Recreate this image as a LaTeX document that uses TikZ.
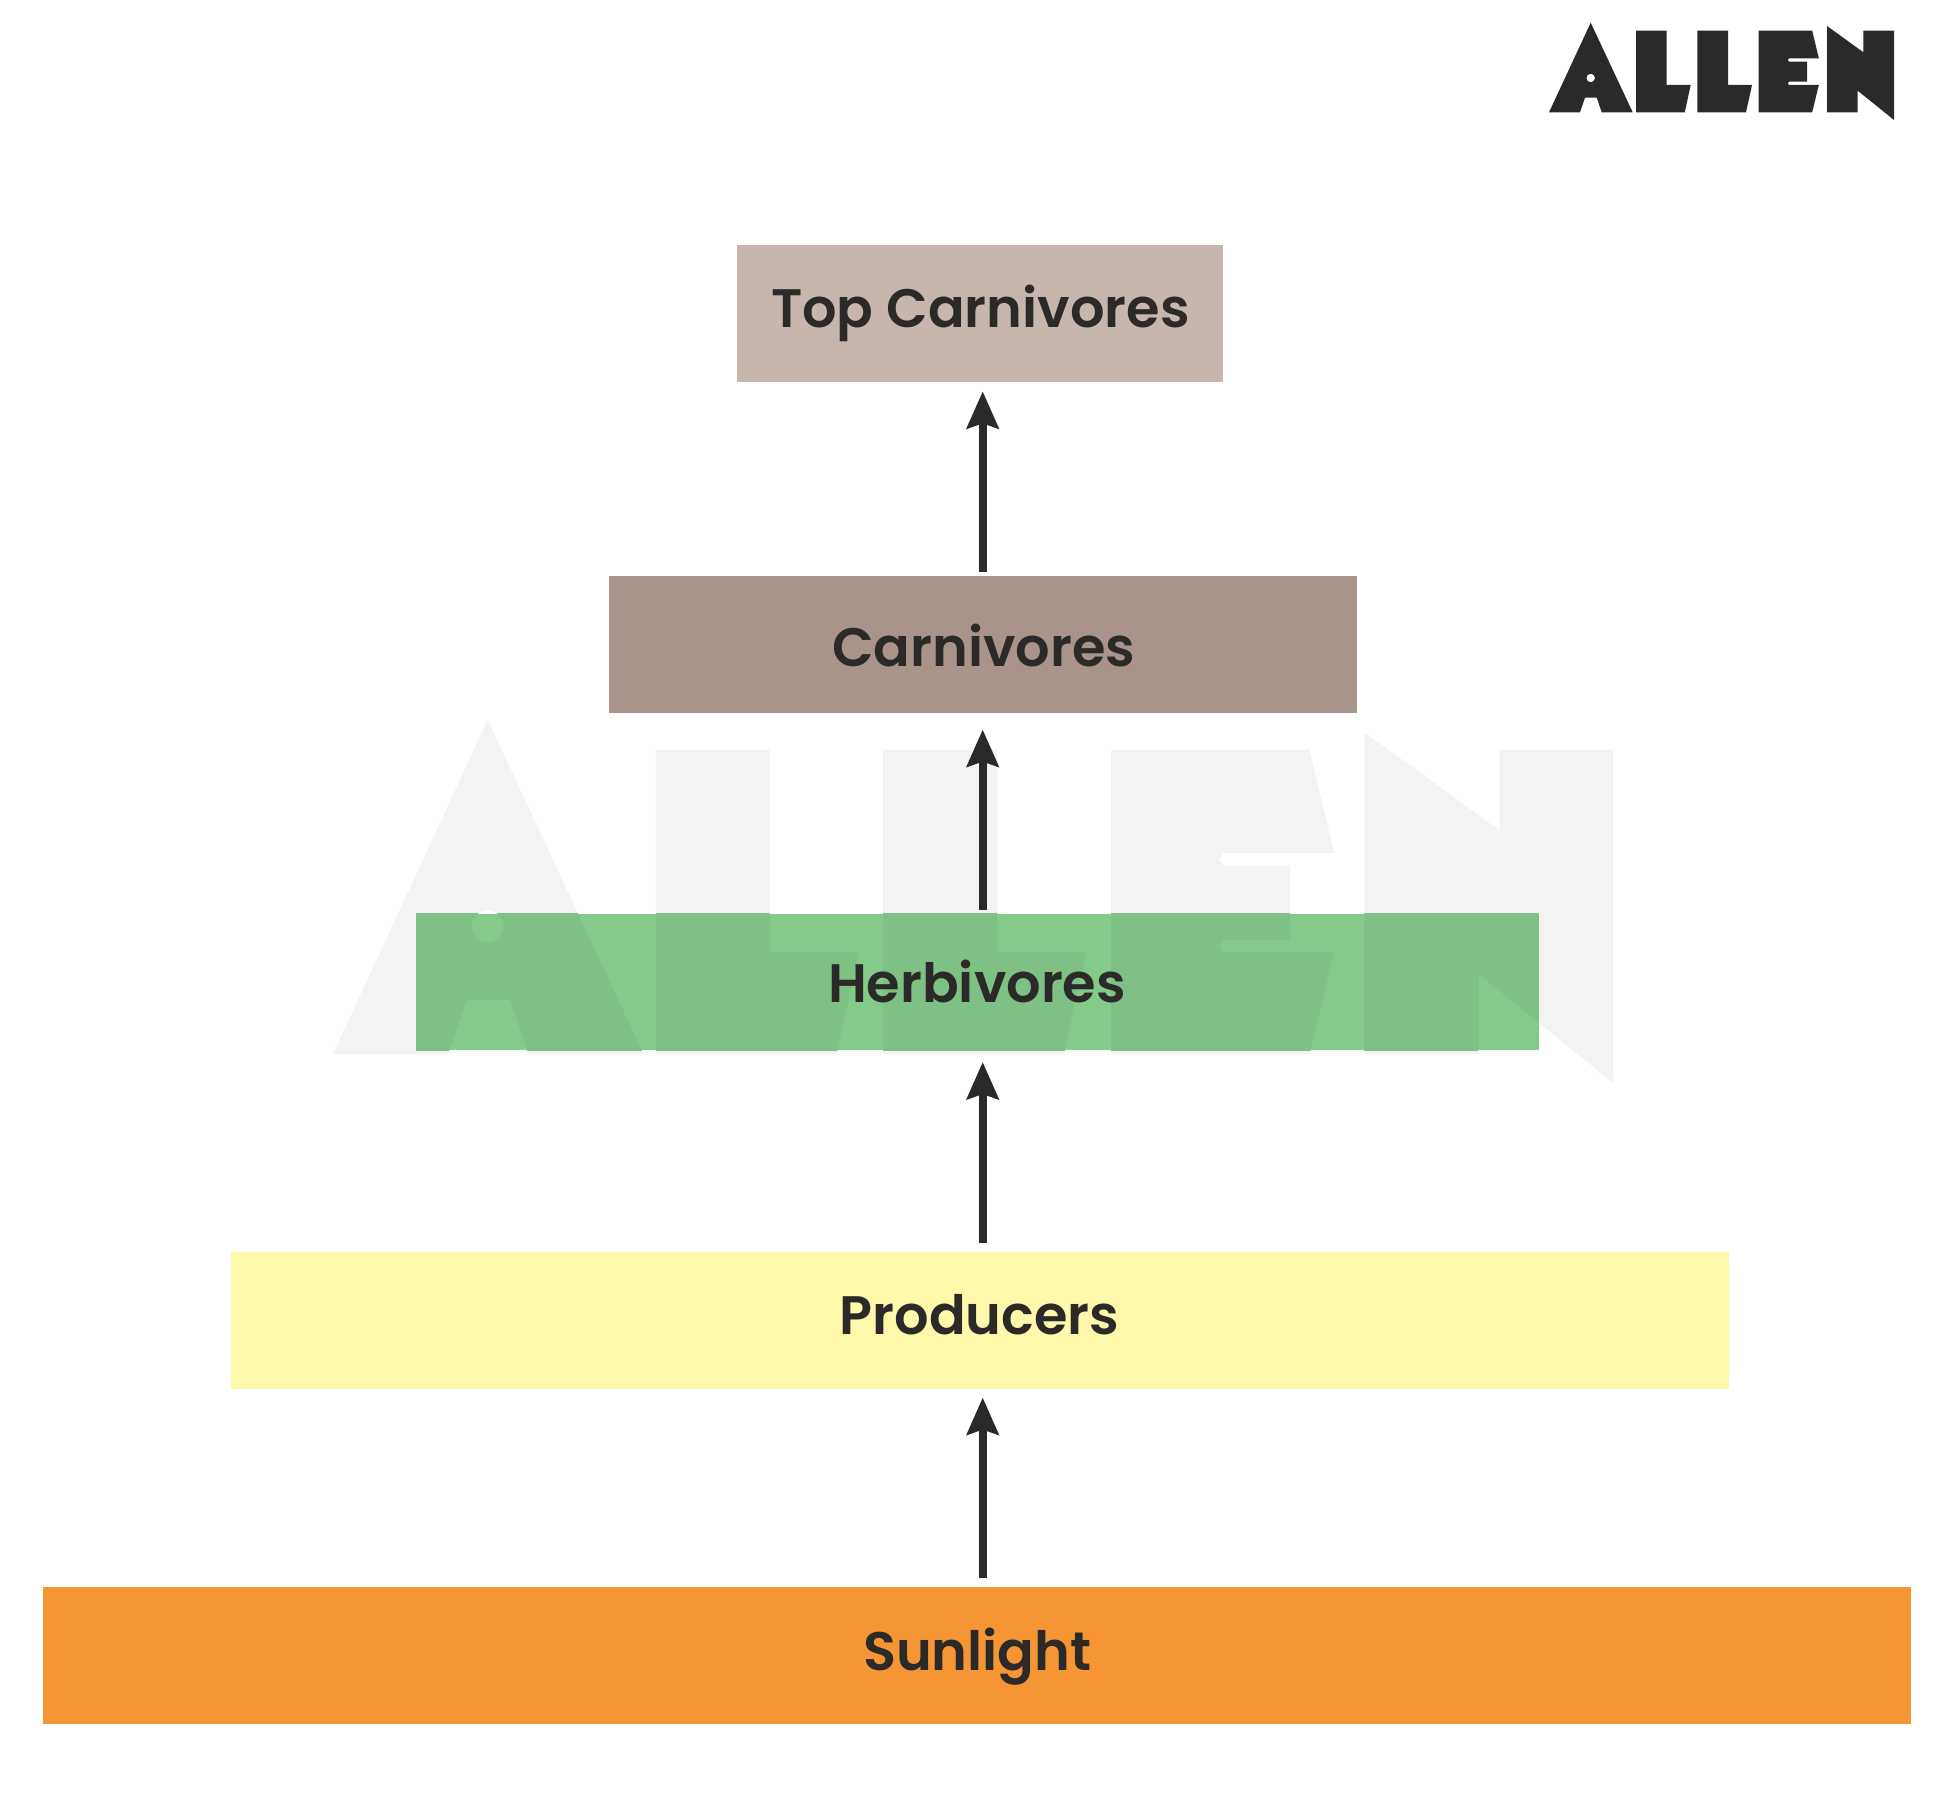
\documentclass[tikz,border=0pt]{standalone}
\usepackage{fontspec}
\setmainfont{Poppins}[BoldFont={Poppins SemiBold}]
\usetikzlibrary{arrows.meta}
\definecolor{ink}{HTML}{2B2A29}
\definecolor{wmark}{HTML}{F3F3F3}
\definecolor{topc}{HTML}{C6B6AE}
\definecolor{carn}{HTML}{A8948A}
\definecolor{herb}{HTML}{84CA88}
\definecolor{herbdark}{HTML}{7FC084}
\definecolor{prod}{HTML}{FEF8AA}
\definecolor{sun}{HTML}{F69533}
\newcommand{\allenshape}{
  (1590.7,22.7) -- (1632.7,112.3) -- (1601.7,112.3) -- (1596.7,97.7) -- (1585,97.7) -- (1580,112.3) -- (1549,112.3) -- cycle
  (1590.7,78) circle[radius=4.3]
  (1636,30.7) -- (1666.7,30.7) -- (1666.7,85) -- (1690.7,85) -- (1684.7,112.3) -- (1636,112.3) -- cycle
  (1697.3,30.7) -- (1728,30.7) -- (1728,85) -- (1752,85) -- (1746,112.3) -- (1697.3,112.3) -- cycle
  (1758.7,30.7) -- (1812.2,30.7) -- (1818.8,58.3) -- (1789,58.3) -- (1787.8,60) -- (1789,61.7) -- (1807,61.7) -- (1807,81.7) -- (1789,81.7) -- (1787.8,83.3) -- (1789,85) -- (1818.8,85) -- (1812.2,112.3) -- (1758.7,112.3) -- cycle
  (1827,26) -- (1863.4,52.3) -- (1863.4,30.7) -- (1894,30.7) -- (1894,120) -- (1857.7,90.7) -- (1857.7,112.3) -- (1827,112.3) -- cycle
}
\tikzset{
  x=1pt,y=-1pt,
  levelbox/.style={draw=none,inner sep=0pt,outer sep=0pt,anchor=north west},
  levellabel/.style={font=\fontsize{54.2}{60}\selectfont\bfseries,text=ink,anchor=base,inner sep=0pt},
  flow/.style={draw=ink,line width=8pt,-{Stealth[length=37pt,width=31.4pt,inset=5pt]}},
  wmarkscope/.style={shift={(333,720)},xscale=3.71,yscale=3.73,shift={(-1549,-22.7)}}
}
\begin{document}
\begin{tikzpicture}
\useasboundingbox (0,0) rectangle (1946,1803);
\fill[white] (0,0) rectangle (1946,1803);
% logo
\fill[ink,even odd rule] \allenshape;
% watermark
\begin{scope}[wmarkscope]
\fill[wmark,even odd rule] \allenshape;
\end{scope}
% level boxes
\node[levelbox,fill=topc,minimum width=486pt,minimum height=136.8pt] (t) at (737,245.5) {};
\node[levelbox,fill=carn,minimum width=748pt,minimum height=137pt] (c) at (609,576) {};
\node[levelbox,fill=herb,minimum width=1122.5pt,minimum height=136.6pt] (h) at (416,913.7) {};
\node[levelbox,fill=prod,minimum width=1498pt,minimum height=136.5pt] (p) at (231,1252) {};
\node[levelbox,fill=sun,minimum width=1867.6pt,minimum height=136.5pt] (s) at (43.4,1587) {};
% watermark seen through the green box
\begin{scope}
\clip (h.north west) rectangle (h.south east);
\begin{scope}[wmarkscope]
\fill[herbdark,even odd rule] \allenshape;
\end{scope}
\end{scope}
% labels
\node[levellabel] (lt) at (980.3,327.7) {Top Carnivores};
\node[levellabel] (lc) at (983.6,666.4) {Carnivores};
\node[levellabel] (lh) at (977,1002.8) {Herbivores};
\node[levellabel] (lp) at (979.5,1334) {Producers};
\node[levellabel] (ls) at (977.3,1670.7) {Sunlight};
% connectors
\coordinate (axis) at (982.7,0);
\draw[flow,shorten <=8.7pt,shorten >=9pt] (axis |- s.north) -- (axis |- p.south);
\draw[flow,shorten <=8.7pt,shorten >=11.7pt] (axis |- p.north) -- (axis |- h.south);
\draw[flow,shorten <=4pt,shorten >=16.5pt] (axis |- h.north) -- (axis |- c.south);
\draw[flow,shorten <=4.3pt,shorten >=9pt] (axis |- c.north) -- (axis |- t.south);
\end{tikzpicture}
\end{document}
